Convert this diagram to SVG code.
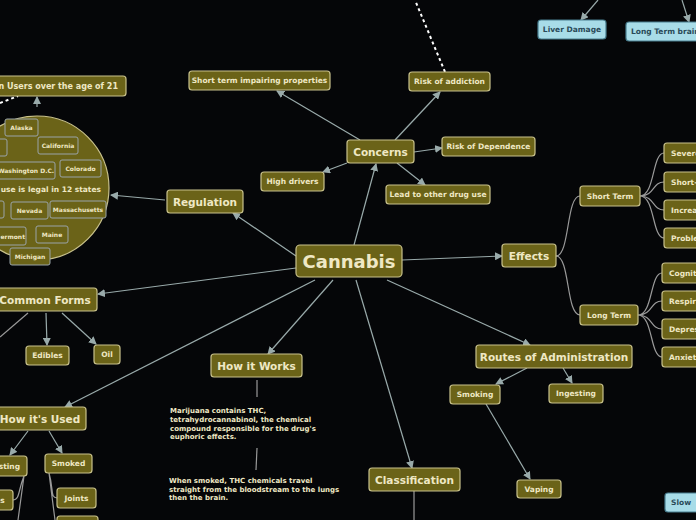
<svg xmlns="http://www.w3.org/2000/svg" width="696" height="520" viewBox="0 0 696 520">
<style>
.n{fill:#6b6318;stroke:#c9c28c;stroke-width:1.2}
.b{fill:#a8dce8;stroke:#4a7f90;stroke-width:1.2}
.t{font-family:"DejaVu Sans",sans-serif;font-weight:bold;fill:#efe8c4;text-anchor:middle;dominant-baseline:central}
.bt{font-family:"DejaVu Sans",sans-serif;font-weight:bold;fill:#2a4a58;text-anchor:middle;dominant-baseline:central;font-size:7.5px}
.s{fill:none;stroke:#9aa;stroke-width:1.2;marker-end:url(#a)}
.c{fill:none;stroke:#9a9a9a;stroke-width:1.2}
.ib{fill:#6b6318;stroke:#9aa4a8;stroke-width:1}
.p{font-family:"DejaVu Sans",sans-serif;font-weight:bold;fill:#efe8c4;font-size:7px}
</style>
<defs><marker id="a" markerWidth="8" markerHeight="8" refX="7" refY="4" orient="auto" markerUnits="userSpaceOnUse"><path d="M0,0 L8,4 L0,8 Z" fill="#9aa"/></marker></defs>
<rect width="696" height="520" fill="#050608"/>
<g id="connectors">
<path class="s" d="M296,256 L233,213"/>
<path class="s" d="M165,200 L111,195"/>
<path class="s" d="M354,245 L376,164"/>
<path class="s" d="M360,140 L277,91"/>
<path class="s" d="M395,140 L440,92"/>
<path class="s" d="M414,152 L442,148"/>
<path class="s" d="M347,163 L323,172"/>
<path class="s" d="M397,163 L425,185"/>
<path d="M445,72 L415,0" stroke="#fff" stroke-width="2" stroke-dasharray="3,3" fill="none"/>
<path d="M0,103 L18,96" stroke="#fff" stroke-width="2" stroke-dasharray="3,3" fill="none"/>
<path class="s" d="M37,107 L37,97"/>
<path class="s" d="M402,260 L502,256"/>
<path class="c" d="M556,256 C570,256 566,196 580,196"/>
<path class="c" d="M556,256 C570,256 566,315 580,315"/>
<path class="c" d="M640,196 C655,196 652,153 664,153 M640,196 C655,196 652,182 664,182 M640,196 C655,196 652,210 664,210 M640,196 C655,196 652,238 664,238"/>
<path class="c" d="M638,315 C653,315 650,273 662,273 M638,315 C653,315 650,301 662,301 M638,315 C653,315 650,329 662,329 M638,315 C653,315 650,357 662,357"/>
<path class="s" d="M296,268 L98,294"/>
<path class="s" d="M333,280 L268,354"/>
<path class="s" d="M315,280 L65,407"/>
<path class="s" d="M356,280 L412,468"/>
<path class="s" d="M387,280 L530,345"/>
<path class="s" d="M527,368 L496,384"/>
<path class="s" d="M563,368 L572,383"/>
<path class="s" d="M486,404 L530,479"/>
<path class="c" d="M414,491 L414,520"/>
<path class="s" d="M598,0 L581,20"/>
<path class="s" d="M682,0 L689,22"/>
<path class="c" d="M28,313 L0,337"/>
<path class="s" d="M46,313 L47,345"/>
<path class="s" d="M62,313 L96,344"/>
<path class="s" d="M28,431 L10,455"/>
<path class="s" d="M49,431 L62,453"/>
<path class="c" d="M257,380 L257,397"/>
<path class="c" d="M257,448 L256,470"/>
<path class="c" d="M24,476 C18,490 20,500 13,500 M24,476 L18,520"/>
<path class="c" d="M49,473 C54,490 50,498 57,498 M49,473 L55,520"/>
</g>
<g id="cannabis"><rect class="n" x="296" y="245" width="106" height="32" rx="4" stroke-width="1.6"/><text class="t" x="349" y="261" font-size="18">Cannabis</text></g>
<g id="regulation"><rect class="n" x="167" y="190" width="76" height="23" rx="3"/><text class="t" x="205" y="201.5" font-size="10.5">Regulation</text></g>
<g id="concerns"><rect class="n" x="347" y="140" width="67" height="23" rx="3"/><text class="t" x="380.5" y="151.5" font-size="10.5">Concerns</text></g>
<g id="effects"><rect class="n" x="502" y="244" width="54" height="23" rx="3"/><text class="t" x="529" y="255.5" font-size="10.5">Effects</text></g>
<g id="routes"><rect class="n" x="476" y="345" width="156" height="23" rx="3"/><text class="t" x="554" y="356.5" font-size="10.5">Routes of Administration</text></g>
<g id="howworks"><rect class="n" x="211" y="354" width="91" height="23" rx="3"/><text class="t" x="256.5" y="365.5" font-size="10.5">How it Works</text></g>
<g id="classification"><rect class="n" x="369" y="468" width="91" height="23" rx="3"/><text class="t" x="414.5" y="479.5" font-size="10.5">Classification</text></g>
<g id="commonforms"><rect class="n" x="-10" y="288" width="107" height="23" rx="3"/><text class="t" x="45" y="299.5" font-size="10.5">Common Forms</text></g>
<g id="howused"><rect class="n" x="-10" y="407" width="96" height="23" rx="3"/><text class="t" x="40" y="418.5" font-size="10.5">How it's Used</text></g>
<g id="shortimp"><rect class="n" x="189" y="71" width="141" height="19" rx="3"/><text class="t" x="259.5" y="80.5" font-size="7.5">Short term impairing properties</text></g>
<g id="addiction"><rect class="n" x="409" y="72" width="81" height="19" rx="3"/><text class="t" x="449.5" y="81.5" font-size="7.5">Risk of addiction</text></g>
<g id="dependence"><rect class="n" x="442" y="137" width="93" height="19" rx="3"/><text class="t" x="488.5" y="146.5" font-size="7.5">Risk of Dependence</text></g>
<g id="highdrivers"><rect class="n" x="261" y="172" width="63" height="19" rx="3"/><text class="t" x="292.5" y="181.5" font-size="7.5">High drivers</text></g>
<g id="lead"><rect class="n" x="386" y="185" width="104" height="19" rx="3"/><text class="t" x="438" y="194.5" font-size="7.5">Lead to other drug use</text></g>
<g id="liver"><rect class="b" x="538" y="20" width="68" height="19" rx="3"/><text class="bt" x="572" y="29.5">Liver Damage</text></g>
<g id="ltbrain"><rect class="b" x="626" y="22" width="80" height="19" rx="3"/><text class="bt" x="631" y="31.5" style="text-anchor:start">Long Term brain</text></g>
<g id="slow"><rect class="b" x="665" y="493" width="40" height="19" rx="3"/><text class="bt" x="671" y="502.5" style="text-anchor:start">Slow</text></g>
<g id="shortterm"><rect class="n" x="580" y="186" width="60" height="20" rx="3"/><text class="t" x="610" y="196" font-size="7.5">Short Term</text></g>
<g id="longterm"><rect class="n" x="580" y="305" width="58" height="20" rx="3"/><text class="t" x="609" y="315" font-size="7.5">Long Term</text></g>
<g id="st1"><rect class="n" x="664" y="143" width="45" height="20" rx="3"/><text class="t" x="671" y="153" font-size="7.5" style="text-anchor:start">Severe</text></g>
<g id="st2"><rect class="n" x="664" y="172" width="45" height="20" rx="3"/><text class="t" x="671" y="182" font-size="7.5" style="text-anchor:start">Short-</text></g>
<g id="st3"><rect class="n" x="664" y="200" width="45" height="20" rx="3"/><text class="t" x="671" y="210" font-size="7.5" style="text-anchor:start">Increa</text></g>
<g id="st4"><rect class="n" x="664" y="228" width="45" height="20" rx="3"/><text class="t" x="671" y="238" font-size="7.5" style="text-anchor:start">Proble</text></g>
<g id="lt1"><rect class="n" x="662" y="263" width="45" height="20" rx="3"/><text class="t" x="669" y="273" font-size="7.5" style="text-anchor:start">Cognit</text></g>
<g id="lt2"><rect class="n" x="662" y="291" width="45" height="20" rx="3"/><text class="t" x="669" y="301" font-size="7.5" style="text-anchor:start">Respira</text></g>
<g id="lt3"><rect class="n" x="662" y="319" width="45" height="20" rx="3"/><text class="t" x="669" y="329" font-size="7.5" style="text-anchor:start">Depres</text></g>
<g id="lt4"><rect class="n" x="662" y="347" width="45" height="20" rx="3"/><text class="t" x="669" y="357" font-size="7.5" style="text-anchor:start">Anxiet</text></g>
<g id="smoking"><rect class="n" x="450" y="385" width="50" height="19" rx="3"/><text class="t" x="475" y="394.5" font-size="7.5">Smoking</text></g>
<g id="ingesting"><rect class="n" x="549" y="384" width="54" height="19" rx="3"/><text class="t" x="576" y="393.5" font-size="7.5">Ingesting</text></g>
<g id="vaping"><rect class="n" x="517" y="480" width="44" height="18" rx="3"/><text class="t" x="539" y="489" font-size="7.5">Vaping</text></g>
<g id="edibles"><rect class="n" x="26" y="346" width="43" height="19" rx="3"/><text class="t" x="47.5" y="355.5" font-size="7.5">Edibles</text></g>
<g id="oil"><rect class="n" x="94" y="345" width="26" height="19" rx="3"/><text class="t" x="107" y="354.5" font-size="7.5">Oil</text></g>
<g id="ingestingL"><rect class="n" x="-20" y="456" width="47" height="20" rx="3"/><text class="t" x="20" y="466" font-size="7.5" style="text-anchor:end">sting</text></g>
<g id="smoked"><rect class="n" x="45" y="454" width="47" height="19" rx="3"/><text class="t" x="68.5" y="463.5" font-size="7.5">Smoked</text></g>
<g id="esbox"><rect class="n" x="-20" y="490" width="33" height="20" rx="3"/><text class="t" x="0" y="500" font-size="7.5">es</text></g>
<g id="joints"><rect class="n" x="57" y="488" width="39" height="20" rx="3"/><text class="t" x="76.5" y="498" font-size="7.5">Joints</text></g>
<g id="smk2"><rect class="n" x="57" y="516" width="41" height="20" rx="3"/></g>
<g id="legal21"><rect class="n" x="-60" y="76" width="186" height="20" rx="3"/><text class="t" x="118" y="86" font-size="8" style="text-anchor:end">can Users over the age of 21</text></g>
<g id="states">
<circle cx="37" cy="188" r="72" fill="#6b6318" stroke="#c9c28c" stroke-width="1.2"/>
<text class="t" x="101" y="189" font-size="7.5" style="text-anchor:end">al use is legal in 12 states</text>
<rect class="ib" x="5" y="119" width="33" height="17" rx="2"/><text class="t" x="21.5" y="127.5" font-size="6">Alaska</text>
<rect class="ib" x="-20" y="139" width="27" height="17" rx="2"/>
<rect class="ib" x="38" y="137" width="40" height="17" rx="2"/><text class="t" x="58" y="145.5" font-size="6">California</text>
<rect class="ib" x="-5" y="162" width="60" height="17" rx="2"/><text class="t" x="26" y="170.5" font-size="6">Washington D.C.</text>
<rect class="ib" x="60" y="160" width="41" height="17" rx="2"/><text class="t" x="80.5" y="168.5" font-size="6">Colorado</text>
<rect class="ib" x="-20" y="201" width="24" height="17" rx="2"/>
<rect class="ib" x="11" y="202" width="37" height="17" rx="2"/><text class="t" x="29.5" y="210.5" font-size="6">Nevada</text>
<rect class="ib" x="50" y="201" width="56" height="17" rx="2"/><text class="t" x="78" y="209.5" font-size="6">Massachusetts</text>
<rect class="ib" x="-20" y="227" width="46" height="18" rx="2"/><text class="t" x="25" y="236" font-size="6" style="text-anchor:end">ermont</text>
<rect class="ib" x="36" y="226" width="32" height="17" rx="2"/><text class="t" x="52" y="234.5" font-size="6">Maine</text>
<rect class="ib" x="10" y="248" width="40" height="17" rx="2"/><text class="t" x="30" y="256.5" font-size="6">Michigan</text>
</g>
<g id="workstext">
<text class="p" x="170" y="413">Marijuana contains THC,</text>
<text class="p" x="170" y="422">tetrahydrocannabinol, the chemical</text>
<text class="p" x="170" y="431">compound responsible for the drug's</text>
<text class="p" x="170" y="439">euphoric effects.</text>
<text class="p" x="169" y="483">When smoked, THC chemicals travel</text>
<text class="p" x="169" y="492">straight from the bloodstream to the lungs</text>
<text class="p" x="169" y="500">then the brain.</text>
</g>
</svg>
